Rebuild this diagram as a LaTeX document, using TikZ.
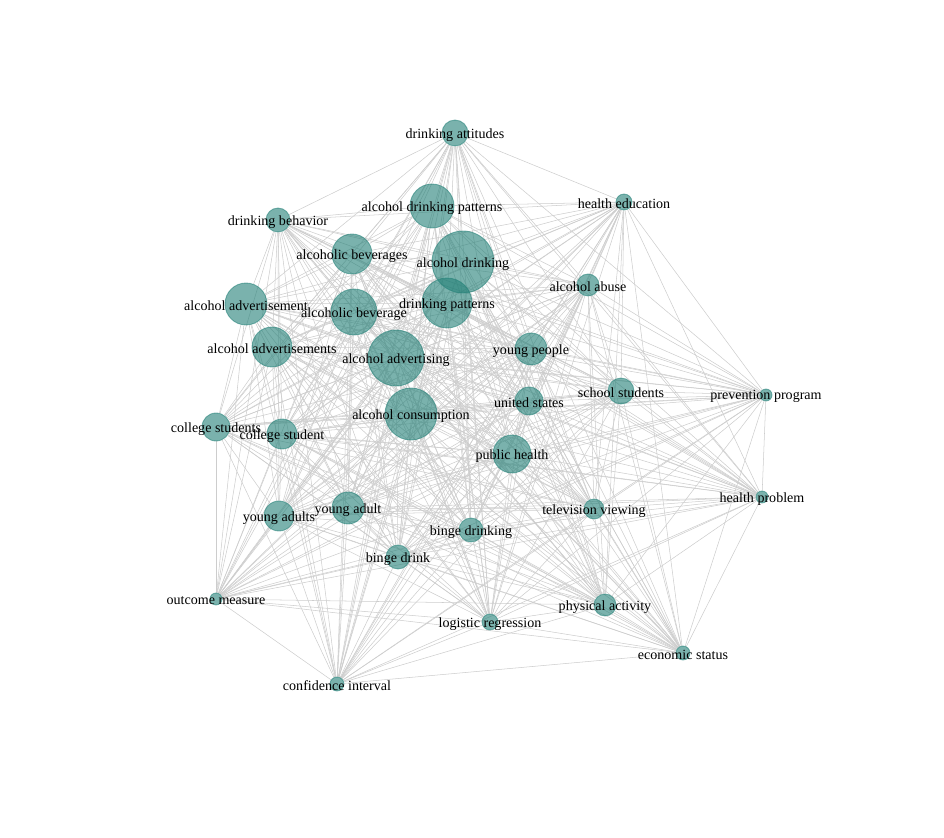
\documentclass[tikz,border=0pt]{standalone}
\usepackage{fontspec}
\setmainfont{Liberation Serif}
\usepackage{xcolor}
\usepackage{tikz}
\usetikzlibrary{backgrounds}

\definecolor{termteal}{RGB}{33,127,118}
\definecolor{edgegray}{RGB}{205,205,205}

\tikzset{
  term/.style={circle, inner sep=0pt, minimum size=#1*0.04cm, fill=termteal, fill opacity=0.6, draw=termteal, draw opacity=0.55, line width=0.5pt},
  termlabel/.style={inner sep=0pt, yshift=-1pt, font=\fontsize{8}{9}\selectfont, text=black},
  link/.style={draw=edgegray, line width=0.3pt}
}

\begin{document}
\begin{tikzpicture}[x=0.02cm, y=-0.02cm]
\useasboundingbox (0,0) rectangle (944,838);

% terms: name / x / y / radius
\foreach \n/\x/\y/\r in {
  attitudes/455/133/13,
  adpatterns/432/206/22,
  healthedu/624/202/8,
  behavior/278/220/12,
  beverages/352/254/20,
  alcdrinking/463/262/31,
  abuse/588/285/11,
  advertisement/246/304/21,
  beverage/354/312/23,
  patterns/447/303/25,
  advertisements/272/347/20,
  advertising/396/358/28,
  youngpeople/531/349/16,
  school/621/391/13,
  prevention/766/395/6,
  us/529/401/14,
  consumption/411/414/26,
  collegestudents/216/427/14,
  collegestudent/282/434/15,
  publichealth/512/454/19,
  healthproblem/762/497/6,
  tv/594/509/10,
  youngadult/348/508/16,
  youngadults/279/516/15,
  binge/471/530/12,
  bingedrink/398/557/12,
  outcome/216/599/6,
  physical/605/605/11,
  logistic/490/622/8,
  economic/683/653/7,
  confidence/337/684/7}
  \node (\n) [term=\r] at (\x,\y) {};

% co-occurrence links, every pair
\begin{pgfonlayer}{background}
\foreach \a [count=\i] in {attitudes,adpatterns,healthedu,behavior,beverages,alcdrinking,abuse,advertisement,beverage,patterns,advertisements,advertising,youngpeople,school,prevention,us,consumption,collegestudents,collegestudent,publichealth,healthproblem,tv,youngadult,youngadults,binge,bingedrink,outcome,physical,logistic,economic,confidence}
  \foreach \b [count=\j] in {attitudes,adpatterns,healthedu,behavior,beverages,alcdrinking,abuse,advertisement,beverage,patterns,advertisements,advertising,youngpeople,school,prevention,us,consumption,collegestudents,collegestudent,publichealth,healthproblem,tv,youngadult,youngadults,binge,bingedrink,outcome,physical,logistic,economic,confidence}
    {\ifnum\j>\i \draw[link] (\a) -- (\b); \fi}
\end{pgfonlayer}

% labels on top
\foreach \n/\t in {
  attitudes/drinking attitudes,
  adpatterns/alcohol drinking patterns,
  healthedu/health education,
  behavior/drinking behavior,
  beverages/alcoholic beverages,
  alcdrinking/alcohol drinking,
  abuse/alcohol abuse,
  advertisement/alcohol advertisement,
  beverage/alcoholic beverage,
  patterns/drinking patterns,
  advertisements/alcohol advertisements,
  advertising/alcohol advertising,
  youngpeople/young people,
  school/school students,
  prevention/prevention program,
  us/united states,
  consumption/alcohol consumption,
  collegestudents/college students,
  collegestudent/college student,
  publichealth/public health,
  healthproblem/health problem,
  tv/television viewing,
  youngadult/young adult,
  youngadults/young adults,
  binge/binge drinking,
  bingedrink/binge drink,
  outcome/outcome measure,
  physical/physical activity,
  logistic/logistic regression,
  economic/economic status,
  confidence/confidence interval}
  \node (\n-t) [termlabel] at (\n.center) {\t};
\end{tikzpicture}
\end{document}
